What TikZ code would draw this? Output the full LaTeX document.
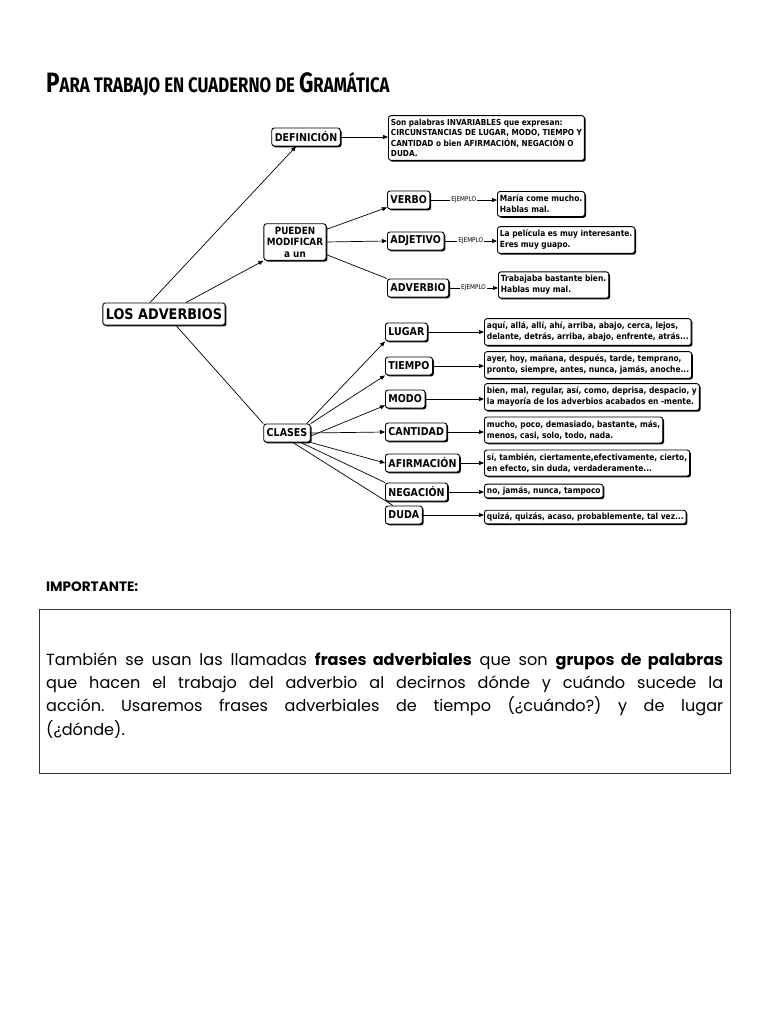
\documentclass[tikz,border=0pt]{standalone}
\usepackage{fontspec}
\setmainfont{Poppins}
\newfontfamily\mapfont{DejaVu Sans}[FakeStretch=0.88]
\newfontfamily\titlefont{Fira Sans}[FakeStretch=0.8]
\usetikzlibrary{arrows.meta,positioning,shadows}

\newcommand{\tsc}[2]{{\fontsize{28}{28}\selectfont #1}{\fontsize{21}{21}\selectfont #2}}

\tikzset{
  base/.style={draw=black, line width=0.9pt, rounded corners=2.5pt, fill=white,
    drop shadow={shadow xshift=1.3pt, shadow yshift=-1.3pt, fill=black, opacity=1}},
  topic/.style={base, font=\mapfont\bfseries\fontsize{10.8}{12}\selectfont, inner xsep=3pt, minimum height=18pt},
  clase/.style={topic, anchor=west},
  info/.style={base, font=\mapfont\bfseries\fontsize{8.5}{11}\selectfont, align=left, inner xsep=2.5pt, inner ysep=3.5pt, anchor=west},
  ejemplo/.style={fill=white, font=\mapfont\fontsize{6.5}{6.5}\selectfont, inner sep=1pt},
  arr/.style={-{Triangle[length=5pt,width=4pt]}, line width=0.7pt},
  link/.style={line width=0.7pt},
}

\begin{document}
\begin{tikzpicture}[x=1pt,y=-1pt]
    \useasboundingbox (0,0) rectangle (768,1024);

    % Title
    \node[anchor=west, font=\titlefont\bfseries, inner sep=0pt] (titulo) at (46,84)
        {\tsc{P}{ARA TRABAJO EN CUADERNO DE }\tsc{G}{RAMÁTICA}};

    % Main nodes
    \node[topic, font=\mapfont\bfseries\fontsize{14.6}{16}\selectfont, minimum height=22pt] (adv) at (164,314) {LOS ADVERBIOS};
    \node[topic] (def) at (306,137) {DEFINICIÓN};
    \node[topic, align=center, font=\mapfont\bfseries\fontsize{10}{11.5}\selectfont, inner sep=3pt] (pueden) at (295,242) {PUEDEN\\MODIFICAR\\a un};
    \node[topic] (clases) at (287,433) {CLASES};

    % Definition
    \node[info, font=\mapfont\bfseries\fontsize{8.3}{10.4}\selectfont] (defx) at (388,138)
        {Son palabras INVARIABLES que expresan:\\CIRCUNSTANCIAS DE LUGAR, MODO, TIEMPO Y\\CANTIDAD o bien AFIRMACIÓN, NEGACIÓN O\\DUDA.};

    % Pueden modificar
    \node[clase] (verbo) at (387,200) {VERBO};
    \node[clase] (adj) at (387,241) {ADJETIVO};
    \node[clase] (advb) at (387,288) {ADVERBIO};
    \node[info] (verbox) at (497,204) {María come mucho.\\Hablas mal.};
    \node[info] (adjx) at (497,240) {La película es muy interesante.\\Eres muy guapo.};
    \node[info] (advbx) at (498,285) {Trabajaba bastante bien.\\Hablas muy mal.};

    % Clases
    \node[clase] (lugar) at (385,332) {LUGAR};
    \node[clase] (tiempo) at (385,366) {TIEMPO};
    \node[clase] (modo) at (385,399) {MODO};
    \node[clase] (cantidad) at (385,432) {CANTIDAD};
    \node[clase] (afirm) at (385,463) {AFIRMACIÓN};
    \node[clase] (negacion) at (385,492) {NEGACIÓN};
    \node[clase] (duda) at (385,515) {DUDA};

    \node[info] (lugarx) at (484,332) {aquí, allá, allí, ahí, arriba, abajo, cerca, lejos,\\delante, detrás, arriba, abajo, enfrente, atrás...};
    \node[info] (tiempox) at (484,365) {ayer, hoy, mañana, después, tarde, temprano,\\pronto, siempre, antes, nunca, jamás, anoche...};
    \node[info] (modox) at (484,397) {bien, mal, regular, así, como, deprisa, despacio, y\\la mayoría de los adverbios acabados en -mente.};
    \node[info] (cantidadx) at (484,430) {mucho, poco, demasiado, bastante, más,\\menos, casi, solo, todo, nada.};
    \node[info] (afirmx) at (484,463) {sí, también, ciertamente,efectivamente, cierto,\\en efecto, sin duda, verdaderamente...};
    \node[info, inner ysep=2.5pt] (negacionx) at (484,491) {no, jamás, nunca, tampoco};
    \node[info, inner ysep=2.5pt] (dudax) at (484,517) {quizá, quizás, acaso, probablemente, tal vez...};

    % Connectors from LOS ADVERBIOS
    \draw[arr] ([xshift=-14pt]adv.north) -- ([xshift=-10pt]def.south);
    \draw[arr] ([xshift=22pt]adv.north) -- (pueden.south west);
    \draw[link] ([xshift=12pt]adv.south) -- (clases.north west);
    \draw[arr] (def.east) -- (def.east -| defx.west);

    % Connectors from PUEDEN
    \draw[arr] ([yshift=-6pt]pueden.north east) -- ([yshift=2pt]verbo.south west);
    \draw[arr] (pueden.east) -- (adj.west);
    \draw[link] ([yshift=6pt]pueden.south east) -- (advb.north west);
    \draw[arr] (verbo.east) -- node[ejemplo] {EJEMPLO} (verbo.east -| verbox.west);
    \draw[arr] (adj.east) -- node[ejemplo] {EJEMPLO} (adj.east -| adjx.west);
    \draw[arr] (advb.east) -- node[ejemplo] {EJEMPLO} (advb.east -| advbx.west);

    % Connectors from CLASES
    \draw[arr] ([xshift=-4pt]clases.north east) -- (lugar.south west);
    \draw[arr] (clases.north east) -- (tiempo.south west);
    \draw[arr] ([yshift=-3pt]clases.east) -- ([yshift=3pt]modo.south west);
    \draw[arr] (clases.east) -- (cantidad.west);
    \draw[arr] (clases.south east) -- (afirm.west);
    \draw[link] ([xshift=-10pt]clases.south east) -- (negacion.north west);
    \draw[link] ([xshift=-18pt]clases.south east) -- ([xshift=8pt]duda.north west);
    \foreach \c in {lugar,tiempo,modo,cantidad,afirm,negacion,duda}
        \draw[arr] (\c.east) -- (\c.east -| \c x.west);

    % Important box
    \node[anchor=west, font=\bfseries\fontsize{13.6}{15}\selectfont, inner sep=0pt] (imp) at (46,587) {IMPORTANTE:};
    \node[draw=black!80, line width=0.8pt, minimum width=691pt, minimum height=164pt, anchor=north west, inner sep=0pt] (marco) at (39,609) {};
    \node[anchor=north west, text width=677pt, align=justify, inner sep=0pt,
          font=\fontsize{16.1}{23.4}\selectfont\frenchspacing] (texto) at (46,652)
        {También se usan las llamadas \textbf{frases adverbiales} que son \textbf{grupos de palabras}\linebreak
         que hacen el trabajo del adverbio al decirnos dónde y cuándo sucede la\linebreak
         acción. Usaremos frases adverbiales de tiempo (¿cuándo?) y de lugar\linebreak
         (¿dónde).};
\end{tikzpicture}
\end{document}
